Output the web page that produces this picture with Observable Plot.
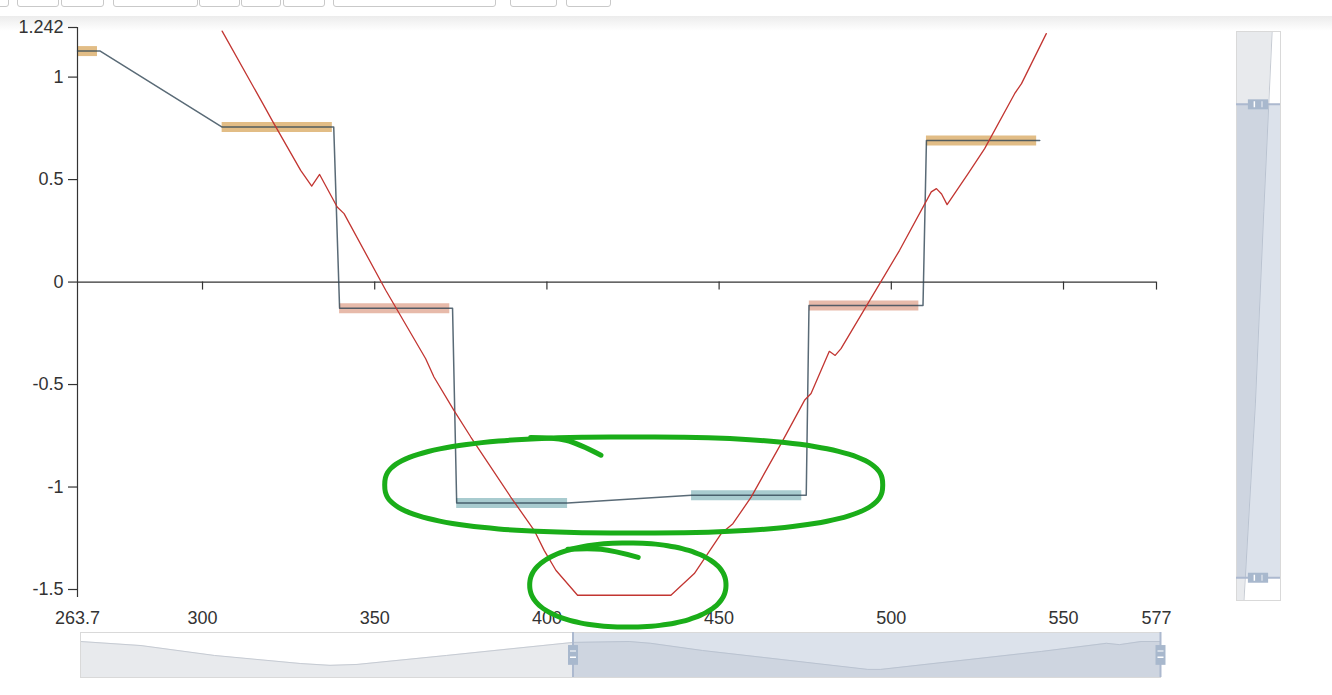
<!DOCTYPE html>
<html><head><meta charset="utf-8">
<script src="https://cdn.jsdelivr.net/npm/d3@7"></script>
<script src="https://cdn.jsdelivr.net/npm/@observablehq/plot@0.6"></script>
<style>
html,body{margin:0;padding:0;background:#fff;width:1332px;height:695px;overflow:hidden;font-family:"Liberation Sans",Arial,sans-serif;}
#wrap{position:relative;width:1332px;height:695px;}
#main{position:absolute;left:0;top:0;z-index:2;}
#hslider{position:absolute;left:80px;top:632px;z-index:2;}
#vslider{position:absolute;left:1236px;top:31px;z-index:2;}
#toolbar{position:absolute;left:0;top:0;width:1332px;height:16px;background:#fff;z-index:5;overflow:hidden;}
#shadow{position:absolute;left:0;top:16px;width:1332px;height:15px;background:linear-gradient(#ececec, rgba(255,255,255,0));z-index:1;}
.btn{position:absolute;top:-14px;height:21px;box-sizing:border-box;border:1px solid #c9c9c9;border-radius:3px;background:#fff;}
</style></head>
<body><div id="wrap">
<div id="toolbar"></div><div id="shadow"></div>
<div id="main"></div><div id="hslider"></div><div id="vslider"></div>
</div>
<script>
// ---------- data ----------
const xTicks = [263.7, 300, 350, 400, 450, 500, 550, 577];
const yTicks = [1.242, 1, 0.5, 0, -0.5, -1, -1.5];
const xDomain = [263.7, 577];
const yDomain = [-1.539, 1.242];

// thick translucent level bars
const barStart = [263.7, 305.7, 339.8, 373.8, 442.0, 476.2, 510.2];
const barEnd   = [269.5, 337.7, 371.8, 406.0, 474.0, 508.0, 542.2];
const barValue = [1.127, 0.756, -0.128, -1.078, -1.040, -0.114, 0.691];
const barKind  = ["high", "high", "mid", "low", "low", "mid", "high"];

// slate step line
const stepX = [263.7, 270.3, 305.7, 338.1, 339.8, 372.6, 373.8, 406.0, 442.0, 475.3, 476.1, 509.2, 510.2, 543.1];
const stepY = [1.127, 1.127, 0.756, 0.756, -0.128, -0.128, -1.078, -1.078, -1.040, -1.040, -0.114, -0.114, 0.691, 0.691];

// red curve
const redX = [305.7, 317.8, 320.2, 328.5, 331.7, 334.0, 339.1, 341.1, 353.2, 364.8, 367.2, 373.0, 377.9, 389.5, 396.3, 399.2, 402.6, 408.9, 436.0, 442.8, 450.6, 454.0, 459.3, 468.0, 474.8, 476.7, 482.0, 483.7, 485.4, 502.4, 511.6, 513.1, 514.6, 516.2, 522.3, 527.1, 535.8, 537.8, 545.0];
const redY = [1.224, 0.862, 0.789, 0.545, 0.468, 0.525, 0.366, 0.334, -0.040, -0.374, -0.463, -0.626, -0.756, -1.049, -1.211, -1.309, -1.406, -1.528, -1.528, -1.422, -1.227, -1.179, -1.049, -0.788, -0.577, -0.544, -0.338, -0.358, -0.325, 0.155, 0.44, 0.456, 0.43, 0.378, 0.529, 0.651, 0.919, 0.968, 1.212];

// data-zoom shadows
const hShadowPct = [0, 5.6, 12.4, 20.4, 23.1, 25.6, 33.9, 45.6, 50.8, 52.8, 57.6, 72.9, 74.1, 89.0, 95.0, 96.2, 98.2, 100];
const hShadowVal = [0.80, 0.71, 0.49, 0.31, 0.27, 0.29, 0.49, 0.78, 0.80, 0.76, 0.60, 0.18, 0.18, 0.58, 0.76, 0.73, 0.80, 0.80];
const hSelection = [45.6, 100];
const vShadowPct = [0, 31.6, 65.3, 100];
const vShadowVal = [0.81, 0.62, 0.43, 0.17];
const vSelection = [12.8, 96.0];

// hand-drawn green annotations (centre, radii in data units)
const annotCx = [425.2, 423.5];
const annotCy = [-0.990, -1.478];
const annotRx = [72.3, 28.5];
const annotRy = [0.234, 0.205];
const hookX = [[395.3, 405.5, 415.7], [406.1, 415.7, 426.5]];
const hookY = [[-0.758, -0.772, -0.845], [-1.304, -1.304, -1.343]];

// ---------- toolbar (partially visible) ----------
const toolbarBoxes = [[-10, 9], [17, 59], [61, 104], [113, 198], [199, 240], [241, 281], [283, 325], [333, 496], [510, 557], [566, 611]];
const tb = document.getElementById("toolbar");
toolbarBoxes.forEach(([a, b]) => {
  const d = document.createElement("div");
  d.className = "btn"; d.style.left = a + "px"; d.style.width = (b - a) + "px";
  tb.appendChild(d);
});

// ---------- build tables ----------
const bars = barStart.map((s, i) => ({start: s, end: barEnd[i], value: barValue[i], kind: barKind[i]}));
const step = stepX.map((x, i) => ({x, y: stepY[i]}));
const red = redX.map((x, i) => ({x, y: redY[i]}));

const annot = [];
annotCx.forEach((cx, k) => {
  const n = k === 0 ? 2.6 : 2.2;
  for (let j = 0; j <= 80; j++) {
    const t = -0.25 + (2 * Math.PI + 0.5) * j / 80;
    const c = Math.cos(t), s = Math.sin(t);
    annot.push({id: "e" + k, x: cx + annotRx[k] * Math.sign(c) * Math.pow(Math.abs(c), 2 / n),
                y: annotCy[k] + annotRy[k] * Math.sign(s) * Math.pow(Math.abs(s), 2 / n)});
  }
  hookX[k].forEach((hx, j) => annot.push({id: "h" + k, x: hx, y: hookY[k][j]}));
});

const fmt = d => String(d);

const main = Plot.plot({
  width: 1200, height: 640,
  marginLeft: 77, marginRight: 44, marginTop: 27, marginBottom: 43,
  style: {fontFamily: "'Liberation Sans', Arial, sans-serif", fontSize: "18px", color: "#333", background: "transparent", overflow: "visible"},
  x: {domain: xDomain},
  y: {domain: yDomain},
  color: {domain: ["high", "mid", "low"], range: ["#ca8622", "#d48265", "#61a0a8"]},
  marks: [
    Plot.ruleY(bars, {y: "value", x1: "start", x2: "end", stroke: "kind", strokeWidth: 10, strokeOpacity: 0.55}),
    Plot.ruleY([0], {stroke: "#333", strokeWidth: 1.2}),
    Plot.ruleX(xTicks.slice(1), {y1: 0, y2: 0, insetTop: 0, insetBottom: -8, stroke: "#333", strokeWidth: 1.2}),
    Plot.ruleX([xDomain[0]], {stroke: "#333", strokeWidth: 1.2}),
    Plot.axisY({anchor: "left", ticks: yTicks, tickSize: 9, tickPadding: 5, tickFormat: fmt, label: null, strokeWidth: 1.2}),
    Plot.axisX({anchor: "bottom", ticks: xTicks, tickSize: 0, tickPadding: 14, tickFormat: fmt, label: null}),
    Plot.line(step, {x: "x", y: "y", stroke: "#2f4554", strokeOpacity: 0.8, strokeWidth: 1.5}),
    Plot.line(red, {x: "x", y: "y", stroke: "#c23531", strokeWidth: 1.3}),
    Plot.line(annot, {x: "x", y: "y", z: "id", stroke: "#1aad19", strokeWidth: 5, strokeLinecap: "round", strokeLinejoin: "round", curve: "catmull-rom"})
  ]
});
document.getElementById("main").appendChild(main);

// ---------- horizontal data zoom ----------
const hShadow = hShadowPct.map((p, i) => ({p, v: hShadowVal[i]}));
const hs = Plot.plot({
  width: 1080, height: 45, margin: 0,
  style: {background: "#fff", overflow: "visible"},
  x: {domain: [0, 100], axis: null},
  y: {domain: [0, 1], axis: null},
  marks: [
    Plot.areaY(hShadow, {x: "p", y: "v", fill: "#e8eaed"}),
    Plot.line(hShadow, {x: "p", y: "v", stroke: "#c6cbd3", strokeWidth: 1}),
    Plot.rect([hSelection], {x1: d => d[0], x2: d => d[1], y1: 0, y2: 1, fill: "rgb(167,183,204)", fillOpacity: 0.4}),
    Plot.frame({stroke: "#d9d9d9"}),
    Plot.ruleX(hSelection, {stroke: "#acb9cf", strokeWidth: 2}),
    Plot.ruleX(hSelection, {y1: 0.27, y2: 0.71, stroke: "#a8b8cd", strokeWidth: 10}),
    Plot.ruleX(hSelection, {y1: 0.42, y2: 0.59, stroke: "#fff", strokeWidth: 6, strokeDasharray: "1.5,5"})
  ]
});
document.getElementById("hslider").appendChild(hs);

// ---------- vertical data zoom ----------
const vShadow = vShadowPct.map((p, i) => ({p, v: vShadowVal[i]}));
const vs = Plot.plot({
  width: 44, height: 569, margin: 0,
  style: {background: "#fff", overflow: "visible"},
  x: {domain: [0, 1], axis: null},
  y: {domain: [0, 100], reverse: true, axis: null},
  marks: [
    Plot.areaX(vShadow, {y: "p", x: "v", fill: "#e8eaed"}),
    Plot.line(vShadow, {y: "p", x: "v", stroke: "#c6cbd3", strokeWidth: 1}),
    Plot.rect([vSelection], {y1: d => d[0], y2: d => d[1], x1: 0, x2: 1, fill: "rgb(167,183,204)", fillOpacity: 0.4}),
    Plot.frame({stroke: "#d9d9d9"}),
    Plot.ruleY(vSelection, {stroke: "#acb9cf", strokeWidth: 2}),
    Plot.ruleY(vSelection, {x1: 0.27, x2: 0.73, stroke: "#a8b8cd", strokeWidth: 10}),
    Plot.ruleY(vSelection, {x1: 0.40, x2: 0.60, stroke: "#fff", strokeWidth: 6, strokeDasharray: "1.5,6.5"})
  ]
});
document.getElementById("vslider").appendChild(vs);
</script>
</body></html>
